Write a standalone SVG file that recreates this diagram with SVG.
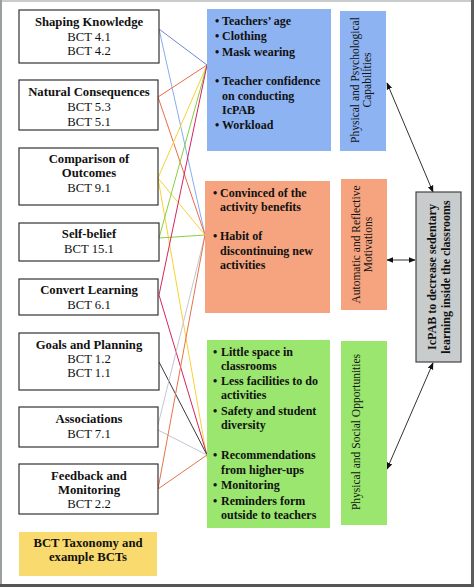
<svg xmlns="http://www.w3.org/2000/svg" width="474" height="587" viewBox="0 0 474 587">
<style>
.bx{fill:#fff;stroke:#333;stroke-width:1.2}
.t{font-family:"Liberation Serif","Times New Roman",serif;font-size:12.7px;fill:#111;text-anchor:middle}
.b{font-weight:bold}
.m{font-family:"Liberation Serif","Times New Roman",serif;font-size:12px;font-weight:bold;fill:#111}
.lab{font-family:"Liberation Serif","Times New Roman",serif;font-size:11.5px;fill:#111;text-anchor:middle}
.c{fill:none;stroke-width:1}
.ar{fill:none;stroke:#333;stroke-width:1;marker-start:url(#ah);marker-end:url(#ah)}
</style>
<defs>
<marker id="ah" viewBox="0 0 10 10" refX="9" refY="5" markerWidth="7" markerHeight="7" orient="auto-start-reverse" markerUnits="userSpaceOnUse">
<path d="M0,1 L10,5 L0,9 z" fill="#111"/>
</marker>
</defs>
<rect x="0" y="0" width="474" height="587" fill="#fff"/>
<line x1="0" y1="1" x2="474" y2="1" stroke="#c8cccc" stroke-width="2"/>
<line x1="1" y1="0" x2="1" y2="587" stroke="#9aa0a0" stroke-width="2"/>
<line x1="472.5" y1="0" x2="472.5" y2="587" stroke="#5c5c5c" stroke-width="3"/>
<line x1="0" y1="585.5" x2="474" y2="585.5" stroke="#555" stroke-width="3"/>

<g id="connectors">
<line class="c" x1="159" y1="29" x2="207" y2="65" stroke="#6F86D6"/>
<line class="c" x1="159" y1="29" x2="205" y2="235" stroke="#86AEF0"/>
<line class="c" x1="158" y1="97" x2="207" y2="65" stroke="#EE6A4A"/>
<line class="c" x1="158" y1="97" x2="205" y2="235" stroke="#EE6A4A"/>
<line class="c" x1="158" y1="178" x2="207" y2="65" stroke="#F6D330"/>
<line class="c" x1="158" y1="178" x2="205" y2="235" stroke="#F6D330"/>
<line class="c" x1="158" y1="178" x2="207" y2="458" stroke="#F6D330"/>
<line class="c" x1="159" y1="238" x2="207" y2="65" stroke="#86D141"/>
<line class="c" x1="159" y1="238" x2="205" y2="235" stroke="#86D141"/>
<line class="c" x1="159" y1="295" x2="207" y2="65" stroke="#D4245E"/>
<line class="c" x1="159" y1="295" x2="207" y2="455" stroke="#D4245E"/>
<line class="c" x1="159" y1="362" x2="207" y2="455" stroke="#3A3A3A"/>
<line class="c" x1="158" y1="425" x2="205" y2="235" stroke="#BFC8D4"/>
<line class="c" x1="158" y1="430" x2="207" y2="455" stroke="#BFC8D4"/>
<line class="c" x1="158" y1="489" x2="205" y2="235" stroke="#E5734A"/>
<line class="c" x1="158" y1="489" x2="207" y2="455" stroke="#E5734A"/>
<line class="ar" x1="387" y1="83" x2="433" y2="192"/>
<line class="ar" x1="387" y1="260" x2="415" y2="260"/>
<line class="ar" x1="387" y1="469" x2="433" y2="363"/>
</g>

<g id="shaping">
<rect class="bx" x="19" y="10" width="140" height="53"/>
<text class="t b" x="89" y="26">Shaping Knowledge</text>
<text class="t" x="89" y="40.5">BCT 4.1</text>
<text class="t" x="89" y="55">BCT 4.2</text>
</g>
<g id="natural">
<rect class="bx" x="19" y="80" width="139" height="50"/>
<text class="t b" x="89" y="96">Natural Consequences</text>
<text class="t" x="89" y="111">BCT 5.3</text>
<text class="t" x="89" y="125.5">BCT 5.1</text>
</g>
<g id="comparison">
<rect class="bx" x="19" y="148" width="139" height="57"/>
<text class="t b" x="89" y="163">Comparison of</text>
<text class="t b" x="89" y="177">Outcomes</text>
<text class="t" x="89" y="192">BCT 9.1</text>
</g>
<g id="selfbelief">
<rect class="bx" x="19" y="223" width="140" height="38"/>
<text class="t b" x="89" y="237.5">Self-belief</text>
<text class="t" x="89" y="253">BCT 15.1</text>
</g>
<g id="convert">
<rect class="bx" x="19" y="279" width="139" height="36"/>
<text class="t b" x="89" y="294">Convert Learning</text>
<text class="t" x="89" y="308.5">BCT 6.1</text>
</g>
<g id="goals">
<rect class="bx" x="19" y="333" width="140" height="57"/>
<text class="t b" x="89" y="349">Goals and Planning</text>
<text class="t" x="89" y="363">BCT 1.2</text>
<text class="t" x="89" y="377">BCT 1.1</text>
</g>
<g id="associations">
<rect class="bx" x="19" y="407" width="139" height="40"/>
<text class="t b" x="89" y="423">Associations</text>
<text class="t" x="89" y="438">BCT 7.1</text>
</g>
<g id="feedback">
<rect class="bx" x="19" y="464" width="139" height="50"/>
<text class="t b" x="89" y="480">Feedback and</text>
<text class="t b" x="89" y="494">Monitoring</text>
<text class="t" x="89" y="508">BCT 2.2</text>
</g>
<g id="legend">
<rect x="19" y="532" width="138" height="44" fill="#F9DA6E"/>
<text class="t b" x="88" y="547">BCT Taxonomy and</text>
<text class="t b" x="88" y="561">example BCTs</text>
</g>

<g id="capabilities-items">
<rect x="207" y="9" width="124" height="142" fill="#8DB3F2"/>
<text class="m" x="215" y="25">•</text><text class="m" x="222" y="25">Teachers’ age</text>
<text class="m" x="215" y="40">•</text><text class="m" x="222" y="40">Clothing</text>
<text class="m" x="215" y="56">•</text><text class="m" x="222" y="56">Mask wearing</text>
<text class="m" x="215" y="85">•</text><text class="m" x="222" y="85">Teacher confidence</text>
<text class="m" x="222" y="100">on conducting</text>
<text class="m" x="222" y="114">IcPAB</text>
<text class="m" x="215" y="129">•</text><text class="m" x="222" y="129">Workload</text>
</g>
<g id="capabilities">
<rect x="340" y="11" width="46" height="140" fill="#8DB3F2"/>
<text class="lab" transform="translate(359,80) rotate(-90)">Physical and Psychological</text>
<text class="lab" transform="translate(371,80) rotate(-90)">Capabilities</text>
</g>

<g id="motivations-items">
<rect x="205" y="181" width="125" height="132" fill="#F6A47F"/>
<text class="m" x="213" y="197">•</text><text class="m" x="220" y="197">Convinced of the</text>
<text class="m" x="220" y="211">activity benefits</text>
<text class="m" x="213" y="240">•</text><text class="m" x="220" y="240">Habit of</text>
<text class="m" x="220" y="254.5">discontinuing new</text>
<text class="m" x="220" y="269">activities</text>
</g>
<g id="motivations">
<rect x="341" y="179" width="46" height="131" fill="#F6A47F"/>
<text class="lab" transform="translate(360,244.5) rotate(-90)">Automatic and Reflective</text>
<text class="lab" transform="translate(372,244.5) rotate(-90)">Motivations</text>
</g>

<g id="opportunities-items">
<rect x="207" y="340" width="123" height="188" fill="#9AE66E"/>
<text class="m" x="213" y="356">•</text><text class="m" x="221" y="356">Little space in</text>
<text class="m" x="221" y="370">classrooms</text>
<text class="m" x="213" y="385">•</text><text class="m" x="221" y="385">Less facilities to do</text>
<text class="m" x="221" y="399">activities</text>
<text class="m" x="213" y="415">•</text><text class="m" x="221" y="415">Safety and student</text>
<text class="m" x="221" y="429">diversity</text>
<text class="m" x="213" y="459">•</text><text class="m" x="221" y="459">Recommendations</text>
<text class="m" x="221" y="474">from higher-ups</text>
<text class="m" x="213" y="489">•</text><text class="m" x="221" y="489">Monitoring</text>
<text class="m" x="213" y="505">•</text><text class="m" x="221" y="505">Reminders form</text>
<text class="m" x="221" y="519">outside to teachers</text>
</g>
<g id="opportunities">
<rect x="341" y="341" width="46" height="184" fill="#9AE66E"/>
<text class="lab" transform="translate(359.5,432) rotate(-90)">Physical and Social Opportunities</text>
</g>

<g id="outcome">
<rect x="416" y="192" width="45" height="170" fill="#C9CCCC" stroke="#444" stroke-width="1.2"/>
<text class="lab b" style="font-size:12px" transform="translate(436,277) rotate(-90)">IcPAB to decrease sedentary</text>
<text class="lab b" style="font-size:12px" transform="translate(450,277) rotate(-90)">learning inside the classrooms</text>
</g>
</svg>
